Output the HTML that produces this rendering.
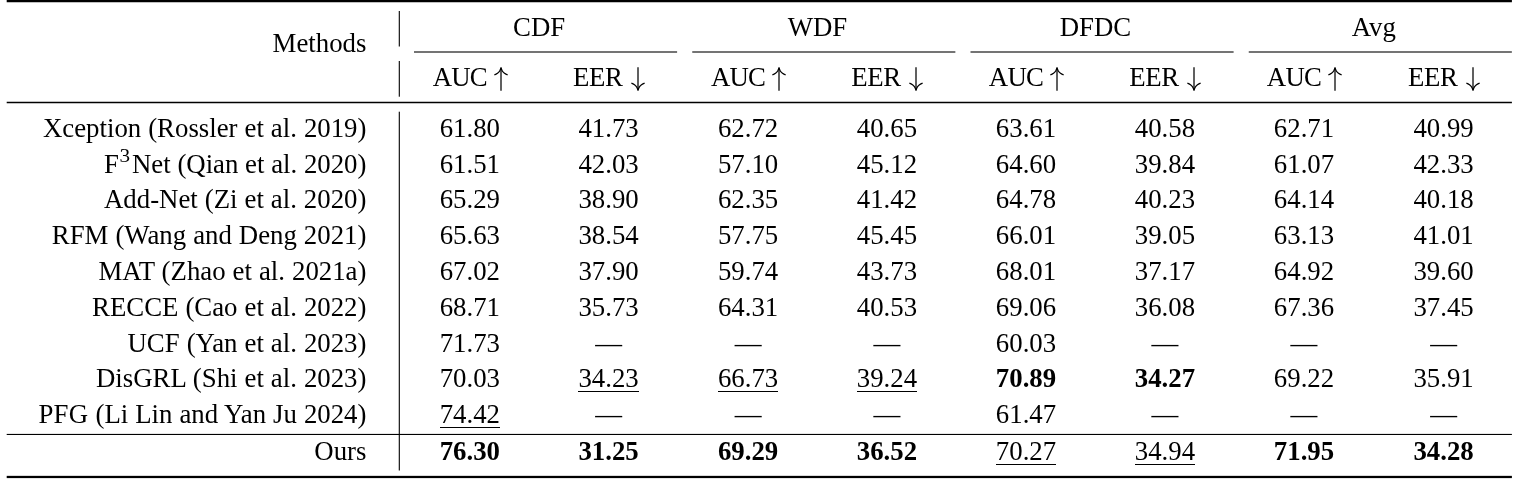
<!DOCTYPE html>
<html><head><meta charset="utf-8"><title>Table</title>
<style>
html,body{margin:0;padding:0;background:#fff;}
body{width:1515px;height:504px;position:relative;overflow:hidden;font-family:"Liberation Serif",serif;color:#000;}
.t{position:absolute;font-size:26.8px;line-height:30px;height:30px;white-space:nowrap;}
.c{width:200px;text-align:center;}
.r{width:500px;text-align:right;word-spacing:0.3px;}
.b{font-weight:bold;}
.a{display:inline-block;position:relative;width:13.4px;height:30px;vertical-align:top;text-align:center;}
.a .ch{color:transparent;}
.a svg{position:absolute;left:-1.4px;top:3.4px;overflow:visible;}
.a{left:0.9px;}
.a.d{margin-left:1.5px;left:0.6px;}
.w0{word-spacing:0;}
.w1{letter-spacing:0px;}
.w2{letter-spacing:0.3px;}
.k0{letter-spacing:-0.8px;}
.k1{letter-spacing:-0.3px;}
.a line,.a polyline{fill:none;stroke:#000;stroke-width:1.25;stroke-linecap:butt;stroke-linejoin:round;}
.rules{position:absolute;left:0;top:0;}
.ul{display:inline-block;position:relative;}
.ul::after{content:"";position:absolute;left:0;right:0;top:28.05px;height:1px;background:#000;}
sup{font-size:19.3px;line-height:0;vertical-align:baseline;position:relative;top:-10.6px;display:inline-block;transform:scaleX(1.1);margin:0 2.25px 0 1.15px;}
</style></head><body>
<svg class="rules" width="1515" height="504" viewBox="0 0 1515 504"><rect x="6.70" y="-1.00" width="1505.20" height="3.25" fill="#000"/><rect x="6.70" y="101.75" width="1505.20" height="1.50" fill="#000"/><rect x="6.70" y="433.90" width="1505.20" height="1.10" fill="#000"/><rect x="6.70" y="475.85" width="1505.20" height="2.25" fill="#000"/><rect x="414.00" y="51.00" width="263.10" height="2.00" fill="#747474"/><rect x="692.25" y="51.00" width="263.10" height="2.00" fill="#747474"/><rect x="970.50" y="51.00" width="263.10" height="2.00" fill="#747474"/><rect x="1248.75" y="51.00" width="263.10" height="2.00" fill="#747474"/><rect x="398.75" y="11.00" width="1.10" height="35.50" fill="#000"/><rect x="398.75" y="61.00" width="1.10" height="35.70" fill="#000"/><rect x="398.75" y="111.70" width="1.10" height="358.80" fill="#000"/></svg>
<div class="t r " style="left:-133.60px;top:27.66px">Methods</div>
<div class="t c " style="left:439.20px;top:11.95px">CDF</div>
<div class="t c " style="left:717.50px;top:11.95px">WDF</div>
<div class="t c " style="left:995.45px;top:11.95px">DFDC</div>
<div class="t c " style="left:1273.80px;top:11.95px">Avg</div>
<div class="t c " style="left:369.80px;top:61.95px"><span class="k0">AUC</span> <span class="a"><span class="ch">↑</span><svg viewBox="-8 -2.5 16 28" width="16" height="28"><line x1="0" y1="0.6" x2="0" y2="23.3"/><polyline points="-6.60,7.30 -4.94,6.63 -3.49,5.73 -2.25,4.61 -1.24,3.31 -0.49,1.83 0.00,0.20 0.49,1.83 1.24,3.31 2.25,4.61 3.49,5.73 4.94,6.63 6.60,7.30"/></svg></span></div>
<div class="t c " style="left:508.60px;top:61.95px"><span class="k1">EER</span> <span class="a d"><span class="ch">↓</span><svg viewBox="-8 -2 16 28" width="16" height="28"><line x1="0" y1="0.3" x2="0" y2="22.9"/><polyline points="-6.60,16.20 -4.94,16.87 -3.49,17.77 -2.25,18.89 -1.24,20.19 -0.49,21.67 0.00,23.30 0.49,21.67 1.24,20.19 2.25,18.89 3.49,17.77 4.94,16.87 6.60,16.20"/></svg></span></div>
<div class="t c " style="left:648.10px;top:61.95px"><span class="k0">AUC</span> <span class="a"><span class="ch">↑</span><svg viewBox="-8 -2.5 16 28" width="16" height="28"><line x1="0" y1="0.6" x2="0" y2="23.3"/><polyline points="-6.60,7.30 -4.94,6.63 -3.49,5.73 -2.25,4.61 -1.24,3.31 -0.49,1.83 0.00,0.20 0.49,1.83 1.24,3.31 2.25,4.61 3.49,5.73 4.94,6.63 6.60,7.30"/></svg></span></div>
<div class="t c " style="left:786.90px;top:61.95px"><span class="k1">EER</span> <span class="a d"><span class="ch">↓</span><svg viewBox="-8 -2 16 28" width="16" height="28"><line x1="0" y1="0.3" x2="0" y2="22.9"/><polyline points="-6.60,16.20 -4.94,16.87 -3.49,17.77 -2.25,18.89 -1.24,20.19 -0.49,21.67 0.00,23.30 0.49,21.67 1.24,20.19 2.25,18.89 3.49,17.77 4.94,16.87 6.60,16.20"/></svg></span></div>
<div class="t c " style="left:926.00px;top:61.95px"><span class="k0">AUC</span> <span class="a"><span class="ch">↑</span><svg viewBox="-8 -2.5 16 28" width="16" height="28"><line x1="0" y1="0.6" x2="0" y2="23.3"/><polyline points="-6.60,7.30 -4.94,6.63 -3.49,5.73 -2.25,4.61 -1.24,3.31 -0.49,1.83 0.00,0.20 0.49,1.83 1.24,3.31 2.25,4.61 3.49,5.73 4.94,6.63 6.60,7.30"/></svg></span></div>
<div class="t c " style="left:1064.90px;top:61.95px"><span class="k1">EER</span> <span class="a d"><span class="ch">↓</span><svg viewBox="-8 -2 16 28" width="16" height="28"><line x1="0" y1="0.3" x2="0" y2="22.9"/><polyline points="-6.60,16.20 -4.94,16.87 -3.49,17.77 -2.25,18.89 -1.24,20.19 -0.49,21.67 0.00,23.30 0.49,21.67 1.24,20.19 2.25,18.89 3.49,17.77 4.94,16.87 6.60,16.20"/></svg></span></div>
<div class="t c " style="left:1204.00px;top:61.95px"><span class="k0">AUC</span> <span class="a"><span class="ch">↑</span><svg viewBox="-8 -2.5 16 28" width="16" height="28"><line x1="0" y1="0.6" x2="0" y2="23.3"/><polyline points="-6.60,7.30 -4.94,6.63 -3.49,5.73 -2.25,4.61 -1.24,3.31 -0.49,1.83 0.00,0.20 0.49,1.83 1.24,3.31 2.25,4.61 3.49,5.73 4.94,6.63 6.60,7.30"/></svg></span></div>
<div class="t c " style="left:1343.60px;top:61.95px"><span class="k1">EER</span> <span class="a d"><span class="ch">↓</span><svg viewBox="-8 -2 16 28" width="16" height="28"><line x1="0" y1="0.3" x2="0" y2="22.9"/><polyline points="-6.60,16.20 -4.94,16.87 -3.49,17.77 -2.25,18.89 -1.24,20.19 -0.49,21.67 0.00,23.30 0.49,21.67 1.24,20.19 2.25,18.89 3.49,17.77 4.94,16.87 6.60,16.20"/></svg></span></div>
<div class="t r " style="left:-133.60px;top:112.95px">Xception (Rossler et al. 2019)</div>
<div class="t c " style="left:369.80px;top:112.95px">61.80</div>
<div class="t c " style="left:508.60px;top:112.95px">41.73</div>
<div class="t c " style="left:648.10px;top:112.95px">62.72</div>
<div class="t c " style="left:786.90px;top:112.95px">40.65</div>
<div class="t c " style="left:926.00px;top:112.95px">63.61</div>
<div class="t c " style="left:1064.90px;top:112.95px">40.58</div>
<div class="t c " style="left:1204.00px;top:112.95px">62.71</div>
<div class="t c " style="left:1343.60px;top:112.95px">40.99</div>
<div class="t r " style="left:-133.60px;top:148.95px"><span class="w0">F<sup>3</sup>Net (Qian et al. 2020)</span></div>
<div class="t c " style="left:369.80px;top:148.95px">61.51</div>
<div class="t c " style="left:508.60px;top:148.95px">42.03</div>
<div class="t c " style="left:648.10px;top:148.95px">57.10</div>
<div class="t c " style="left:786.90px;top:148.95px">45.12</div>
<div class="t c " style="left:926.00px;top:148.95px">64.60</div>
<div class="t c " style="left:1064.90px;top:148.95px">39.84</div>
<div class="t c " style="left:1204.00px;top:148.95px">61.07</div>
<div class="t c " style="left:1343.60px;top:148.95px">42.33</div>
<div class="t r " style="left:-133.60px;top:183.95px">Add-Net (Zi et al. 2020)</div>
<div class="t c " style="left:369.80px;top:183.95px">65.29</div>
<div class="t c " style="left:508.60px;top:183.95px">38.90</div>
<div class="t c " style="left:648.10px;top:183.95px">62.35</div>
<div class="t c " style="left:786.90px;top:183.95px">41.42</div>
<div class="t c " style="left:926.00px;top:183.95px">64.78</div>
<div class="t c " style="left:1064.90px;top:183.95px">40.23</div>
<div class="t c " style="left:1204.00px;top:183.95px">64.14</div>
<div class="t c " style="left:1343.60px;top:183.95px">40.18</div>
<div class="t r " style="left:-133.60px;top:219.95px">RFM (Wang and Deng 2021)</div>
<div class="t c " style="left:369.80px;top:219.95px">65.63</div>
<div class="t c " style="left:508.60px;top:219.95px">38.54</div>
<div class="t c " style="left:648.10px;top:219.95px">57.75</div>
<div class="t c " style="left:786.90px;top:219.95px">45.45</div>
<div class="t c " style="left:926.00px;top:219.95px">66.01</div>
<div class="t c " style="left:1064.90px;top:219.95px">39.05</div>
<div class="t c " style="left:1204.00px;top:219.95px">63.13</div>
<div class="t c " style="left:1343.60px;top:219.95px">41.01</div>
<div class="t r " style="left:-133.60px;top:255.95px">MAT (Zhao et al. 2021a)</div>
<div class="t c " style="left:369.80px;top:255.95px">67.02</div>
<div class="t c " style="left:508.60px;top:255.95px">37.90</div>
<div class="t c " style="left:648.10px;top:255.95px">59.74</div>
<div class="t c " style="left:786.90px;top:255.95px">43.73</div>
<div class="t c " style="left:926.00px;top:255.95px">68.01</div>
<div class="t c " style="left:1064.90px;top:255.95px">37.17</div>
<div class="t c " style="left:1204.00px;top:255.95px">64.92</div>
<div class="t c " style="left:1343.60px;top:255.95px">39.60</div>
<div class="t r " style="left:-133.60px;top:291.95px">RECCE (Cao et al. 2022)</div>
<div class="t c " style="left:369.80px;top:291.95px">68.71</div>
<div class="t c " style="left:508.60px;top:291.95px">35.73</div>
<div class="t c " style="left:648.10px;top:291.95px">64.31</div>
<div class="t c " style="left:786.90px;top:291.95px">40.53</div>
<div class="t c " style="left:926.00px;top:291.95px">69.06</div>
<div class="t c " style="left:1064.90px;top:291.95px">36.08</div>
<div class="t c " style="left:1204.00px;top:291.95px">67.36</div>
<div class="t c " style="left:1343.60px;top:291.95px">37.45</div>
<div class="t r " style="left:-133.60px;top:327.95px">UCF (Yan et al. 2023)</div>
<div class="t c " style="left:369.80px;top:327.95px">71.73</div>
<div class="t c " style="left:508.60px;top:327.95px">—</div>
<div class="t c " style="left:648.10px;top:327.95px">—</div>
<div class="t c " style="left:786.90px;top:327.95px">—</div>
<div class="t c " style="left:926.00px;top:327.95px">60.03</div>
<div class="t c " style="left:1064.90px;top:327.95px">—</div>
<div class="t c " style="left:1204.00px;top:327.95px">—</div>
<div class="t c " style="left:1343.60px;top:327.95px">—</div>
<div class="t r " style="left:-133.60px;top:362.95px"><span class="w1">DisGRL</span> (Shi et al. 2023)</div>
<div class="t c " style="left:369.80px;top:362.95px">70.03</div>
<div class="t c " style="left:508.60px;top:362.95px"><span class="ul">34.23</span></div>
<div class="t c " style="left:648.10px;top:362.95px"><span class="ul">66.73</span></div>
<div class="t c " style="left:786.90px;top:362.95px"><span class="ul">39.24</span></div>
<div class="t c b" style="left:926.00px;top:362.95px">70.89</div>
<div class="t c b" style="left:1064.90px;top:362.95px">34.27</div>
<div class="t c " style="left:1204.00px;top:362.95px">69.22</div>
<div class="t c " style="left:1343.60px;top:362.95px">35.91</div>
<div class="t r " style="left:-133.60px;top:398.95px"><span class="w2">PFG</span> (Li Lin and Yan Ju 2024)</div>
<div class="t c " style="left:369.80px;top:398.95px"><span class="ul">74.42</span></div>
<div class="t c " style="left:508.60px;top:398.95px">—</div>
<div class="t c " style="left:648.10px;top:398.95px">—</div>
<div class="t c " style="left:786.90px;top:398.95px">—</div>
<div class="t c " style="left:926.00px;top:398.95px">61.47</div>
<div class="t c " style="left:1064.90px;top:398.95px">—</div>
<div class="t c " style="left:1204.00px;top:398.95px">—</div>
<div class="t c " style="left:1343.60px;top:398.95px">—</div>
<div class="t r " style="left:-133.60px;top:435.95px">Ours</div>
<div class="t c b" style="left:369.80px;top:435.95px">76.30</div>
<div class="t c b" style="left:508.60px;top:435.95px">31.25</div>
<div class="t c b" style="left:648.10px;top:435.95px">69.29</div>
<div class="t c b" style="left:786.90px;top:435.95px">36.52</div>
<div class="t c " style="left:926.00px;top:435.95px"><span class="ul">70.27</span></div>
<div class="t c " style="left:1064.90px;top:435.95px"><span class="ul">34.94</span></div>
<div class="t c b" style="left:1204.00px;top:435.95px">71.95</div>
<div class="t c b" style="left:1343.60px;top:435.95px">34.28</div>
</body></html>
